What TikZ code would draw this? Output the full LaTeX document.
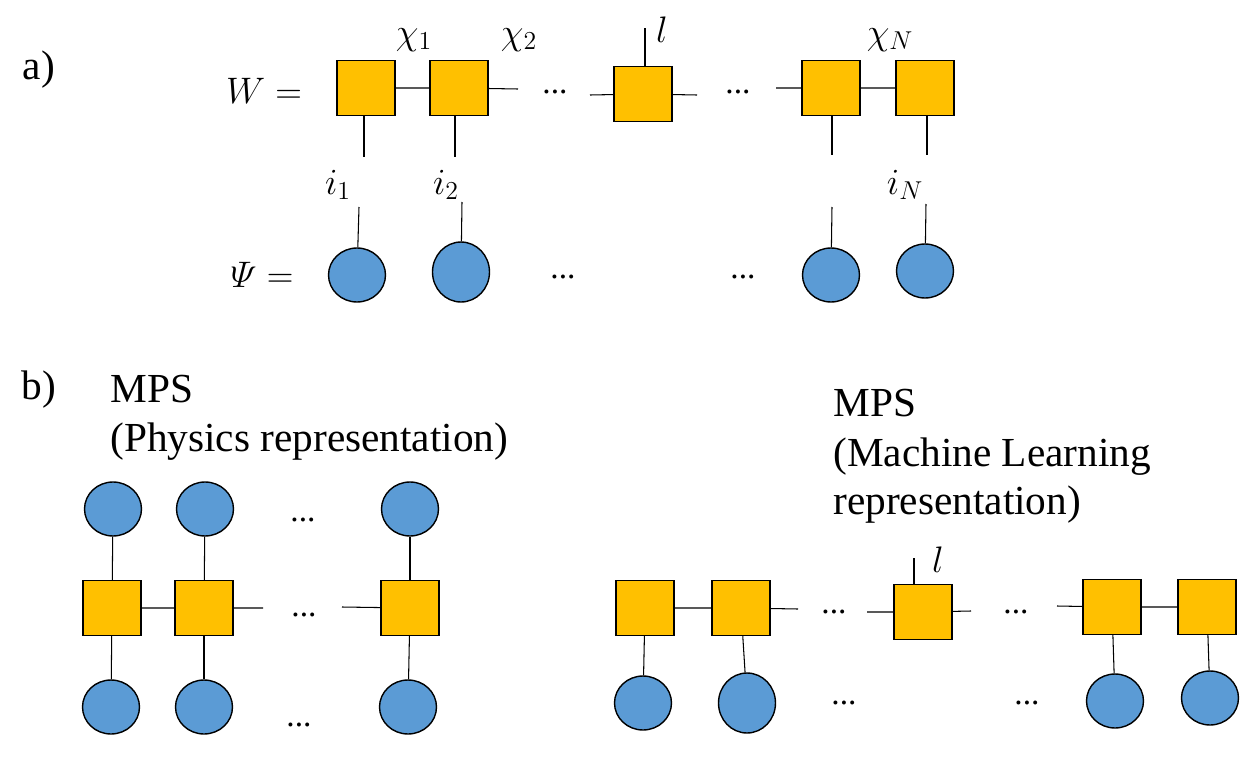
\documentclass[tikz,border=0pt]{standalone}
\usepackage{fix-cm}
\usepackage{amsmath}
\usepackage{fontspec}
\setmainfont{Liberation Serif}
\usetikzlibrary{shapes.geometric}
\definecolor{tenfill}{HTML}{FFC000}
\definecolor{sitefill}{HTML}{5B9BD5}
\tikzset{
  tens/.style={draw=black,line width=.8pt,fill=tenfill,minimum width=1.16cm,minimum height=1.1cm,inner sep=0pt},
  vec/.style={draw=black,line width=.8pt,fill=sitefill,ellipse,minimum width=1.14cm,minimum height=1.08cm,inner sep=0pt},
  vectall/.style={vec,minimum height=1.2cm},
  bond/.style={line width=.6pt},
  elide/.style={font=\fontsize{19}{22}\selectfont,inner sep=0pt},
  lab/.style={font=\fontsize{23.5}{28}\selectfont,inner sep=0pt},
  idx/.style={font=\fontsize{21}{24}\selectfont,inner sep=0pt}
}
\begin{document}
\begin{tikzpicture}[x=.02cm,y=-.02cm]
\useasboundingbox (0,0) rectangle (1242,761);
% a) W and Psi
\node[lab] (la) at (39,70) {a)};
\node[idx] (weq) at (264,91) {$W=$};
\node[idx] (psieq) at (262,275) {$\varPsi=$};
\foreach \n/\x/\y in {w1/366/88,w2/459/88,wl/643/94,wm/831/88,wn/925/88}
  \node[tens] (\n) at (\x,\y) {};
\foreach \n/\x/\y/\s in {p1/357/275/vec,p2/461/272/vectall,pm/831/275/vec,pn/925/271/vec}
  \node[\s] (\n) at (\x,\y) {};
\path (518,89) coordinate (w2r) (590,95) coordinate (wll) (697,95) coordinate (wlr)
  (776,88) coordinate (wml) (645,28) coordinate (wlt)
  (364,157) coordinate (w1d) (455,157) coordinate (w2d) (832,155) coordinate (wmd) (927,155) coordinate (wnd)
  (359,207) coordinate (p1u) (462,202) coordinate (p2u) (832,207) coordinate (pmu) (926,204) coordinate (pnu);
\draw[bond] (w1) -- (w2) (w2) -- (w2r) (wll) -- (wl) (wl) -- (wlr) (wml) -- (wm) (wm) -- (wn);
\draw[bond] (wlt |- wl.north) -- (wlt);
\foreach \n in {1,2,m,n} {
  \draw[bond] (w\n d |- w\n.south) -- (w\n d);
  \draw[bond] (p\n u) -- (p\n);
}
\node[idx] (chi1) at (414,40) {$\chi_1$};
\node[idx] (chi2) at (519,40) {$\chi_2$};
\node[idx] (chin) at (890,40) {$\chi_N$};
\node[idx] (ll) at (662,30) {$l$};
\node[idx] (i1) at (338,185) {$i_1$};
\node[idx] (i2) at (446,185) {$i_2$};
\node[idx] (in) at (905,185) {$i_N$};
\foreach \n/\x/\y in {ea1/555/92,ea2/738/92,ea3/563/277,ea4/743/277}
  \node[elide] (\n) at (\x,\y) {...};
% b) physics picture
\node[lab] (lb) at (39,390) {b)};
\node[lab,anchor=base west] (mpsa) at (110,402) {MPS};
\node[lab,anchor=base west] (physa) at (110,451) {(Physics representation)};
\foreach \n/\x/\y in {u1/113/509,u2/205/509,u3/410/509,d1/111/707,d2/204/707,d3/408/707}
  \node[vec] (\n) at (\x,\y) {};
\foreach \n/\x in {m1/112,m2/204,m3/410}
  \node[tens] (\n) at (\x,608) {};
\path (263,608) coordinate (m2r) (342,607) coordinate (m3l);
\foreach \i in {1,2,3} {
  \draw[bond] (u\i) -- (m\i);
  \draw[bond] (m\i) -- (d\i);
}
\draw[bond] (m1) -- (m2) (m2) -- (m2r) (m3l) -- (m3);
\foreach \n/\x/\y in {eb1/303/520,eb2/304/615,eb3/299/725}
  \node[elide] (\n) at (\x,\y) {...};
% b) machine learning picture
\node[lab,anchor=base west] (mpsb) at (833,416) {MPS};
\node[lab,anchor=base west] (mla) at (833,466) {(Machine Learning};
\node[lab,anchor=base west] (mlb) at (833,514) {representation)};
\foreach \n/\x/\y in {r1/645/608,r2/741/608,rl/923/612,rm/1112/607,rn/1207/607}
  \node[tens] (\n) at (\x,\y) {};
\foreach \n/\x/\y/\s in {q1/643/703/vec,q2/747/703/vectall,qm/1115/701/vec,qn/1210/698/vec}
  \node[\s] (\n) at (\x,\y) {};
\path (798,609) coordinate (r2r) (867,612) coordinate (rll) (971,611) coordinate (rlr)
  (1057,606) coordinate (rml) (914,558) coordinate (rlt);
\draw[bond] (r1) -- (r2) (r2) -- (r2r) (rll) -- (rl) (rl) -- (rlr) (rml) -- (rm) (rm) -- (rn);
\draw[bond] (rlt |- rl.north) -- (rlt);
\foreach \n in {1,2,m,n}
  \draw[bond] (r\n) -- (q\n);
\node[idx] (lr) at (938,560) {$l$};
\foreach \n/\x/\y in {ec1/834/612,ec2/1016/612,ec3/844/703,ec4/1027/703}
  \node[elide] (\n) at (\x,\y) {...};
\end{tikzpicture}
\end{document}
